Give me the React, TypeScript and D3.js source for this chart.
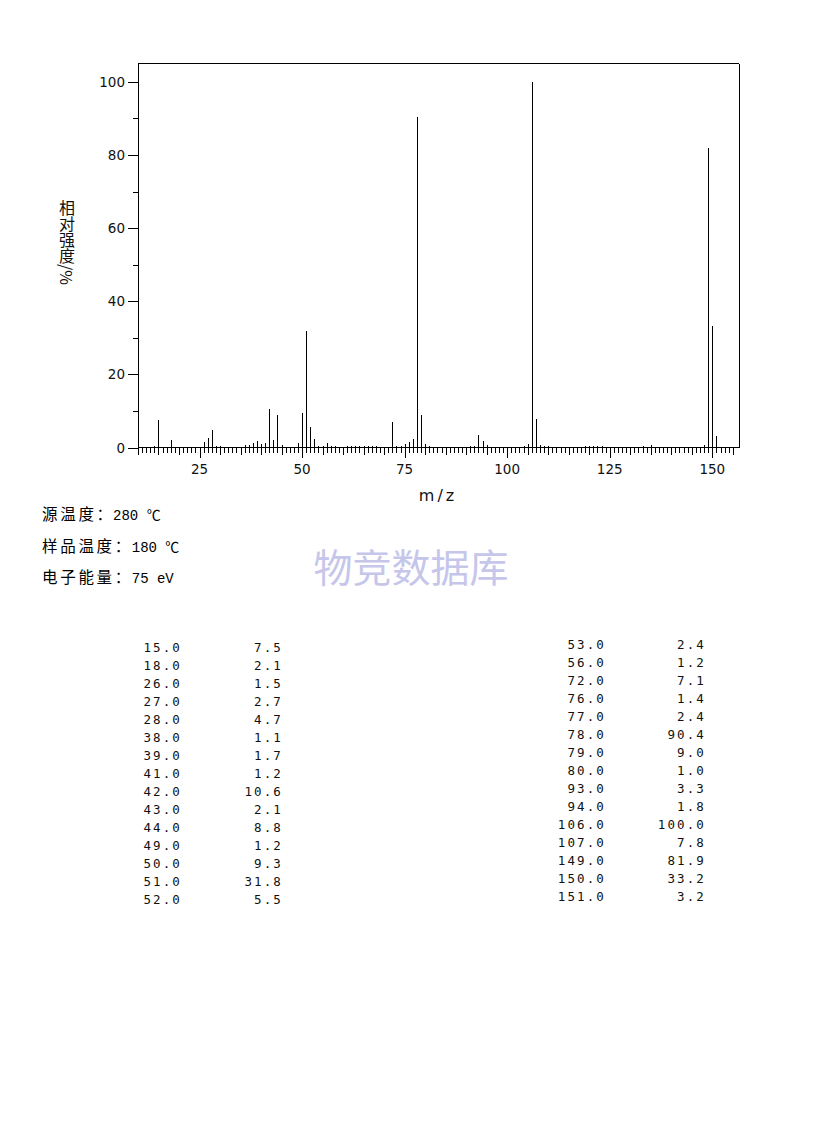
import React from "react";
import * as d3 from "d3";

// Peak list (m/z and relative intensity %)
const peakMz = [14,15,18,26,27,28,29,30,36,37,38,39,40,41,42,43,44,45,49,50,51,52,53,54,55,56,57,58,61,62,63,64,65,66,67,68,72,73,74,75,76,77,78,79,80,81,91,92,93,94,95,104,105,106,107,108,109,110,119,120,121,122,123,133,135,148,149,150,151];
const peakIntensity = [0.3,7.5,2.1,1.5,2.7,4.7,0.4,0.4,0.6,0.7,1.1,1.7,0.9,1.2,10.6,2.1,8.8,0.6,1.2,9.3,31.8,5.5,2.4,0.3,0.3,1.2,0.3,0.3,0.3,0.3,0.4,0.3,0.5,0.3,0.3,0.3,7.1,0.3,0.3,0.9,1.4,2.4,90.4,9.0,1.0,0.3,0.3,0.5,3.3,1.8,0.6,0.3,0.9,100,7.8,0.8,0.4,0.3,0.5,0.5,0.5,0.5,0.5,0.4,0.8,0.8,81.9,33.2,3.2];

const xTickLabels = [25, 50, 75, 100, 125, 150];
const yTickLabels = [0, 20, 40, 60, 80, 100];
const infoLabels = ["源温度：", "样品温度：", "电子能量："];
const infoValues = ["280 ℃", "180 ℃", "75 eV"];
const watermark = "物竞数据库";
const yAxisLabel = "相对强度/%";
const xAxisLabel = "m/z";

const W = 822, H = 1134;
const plotLeft = 138, plotRight = 739, plotTop = 63.5, plotBottom = 447.5;

export default function App() {
  const x = d3.scaleLinear().domain([25, 150]).range([199.5, 712.3]);
  const y = d3.scaleLinear().domain([0, 100]).range([plotBottom, 81.8]);

  const minorX = d3.range(10, 156, 1);
  const minorY = d3.range(0, 101, 10);

  const peaks = peakMz.map((m, i) => ({ m, v: peakIntensity[i] }));
  const table = peaks.filter((p) => p.v >= 1.0);
  const leftCol = table.slice(0, 15);
  const rightCol = table.slice(15);

  const mono = "'DejaVu Sans Mono', monospace";
  const sans = "'DejaVu Sans', Verdana, sans-serif";
  const cjkFont = "'Noto Sans CJK SC', sans-serif";
  const valFont = "'Liberation Mono', 'Noto Sans CJK SC', monospace";
  const cjkAdvance = 18.7;

  return (
    <svg width={W} height={H} style={{ position: "absolute", left: 0, top: 0, background: "#fff" }}>
      <rect x={0} y={0} width={W} height={H} fill="#fff" />
      {/* frame */}
      <g stroke="#000" strokeWidth={1} fill="none" shapeRendering="crispEdges">
        <line x1={plotLeft} x2={plotRight} y1={plotTop} y2={plotTop} />
        <line x1={plotRight} x2={plotRight} y1={plotTop} y2={plotBottom} />
        <line x1={plotLeft} x2={plotLeft} y1={plotTop} y2={plotBottom} />
        <line x1={plotLeft} x2={plotRight} y1={plotBottom} y2={plotBottom} />
      </g>
      {/* x ticks */}
      <g stroke="#000" strokeWidth={1} shapeRendering="crispEdges">
        {minorX.map((m) => {
          const len = m % 25 === 0 ? 10 : m % 5 === 0 ? 7 : 5;
          const xx = Math.round(x(m)) + 0.5;
          return <line key={m} x1={xx} x2={xx} y1={plotBottom} y2={plotBottom + len} />;
        })}
      </g>
      {/* y ticks */}
      <g stroke="#000" strokeWidth={1} shapeRendering="crispEdges">
        {minorY.map((v) => {
          const len = v % 20 === 0 ? 10 : 5;
          const yy = Math.round(y(v)) + 0.5;
          return <line key={v} x1={plotLeft - len} x2={plotLeft} y1={yy} y2={yy} />;
        })}
      </g>
      {/* tick labels */}
      <g fontFamily={sans} fontSize={13.5} fill="#111">
        {xTickLabels.map((m) => (
          <text key={m} x={x(m)} y={474} textAnchor="middle">{m}</text>
        ))}
        {yTickLabels.map((v) => (
          <text key={v} x={125} y={y(v) + 5} textAnchor="end">{v}</text>
        ))}
      </g>
      {/* peaks */}
      <g stroke="#000" strokeWidth={1} shapeRendering="crispEdges">
        {peaks.map((p) => {
          const xx = Math.round(x(p.m)) + 0.5;
          return <line key={p.m} x1={xx} x2={xx} y1={plotBottom} y2={y(p.v)} />;
        })}
      </g>
      {/* axis labels */}
      <text x={438} y={501} textAnchor="middle" fontFamily={sans} fontSize={16} letterSpacing={3} fill="#111">{xAxisLabel}</text>
      <text x={67} y={200} fontFamily={cjkFont} fontSize={16} fill="#111" style={{ writingMode: "vertical-rl" } as any}>{yAxisLabel}</text>
      {/* info lines */}
      {infoLabels.map((t, i) => (
        <g key={i} fill="#000">
          <text x={42} y={520 + i * 31.5} fontFamily={cjkFont} fontSize={15.5} letterSpacing={2.7}>{t}</text>
          <text x={42 + 3.8 * cjkAdvance + (t.length - 4) * cjkAdvance} y={520 + i * 31.5} fontFamily={valFont} fontSize={14}>{infoValues[i]}</text>
        </g>
      ))}
      {/* watermark */}
      <text x={411} y={582} textAnchor="middle" fontFamily={cjkFont} fontSize={39} fill="#c6c6ea">{watermark}</text>
      {/* table */}
      <g fontFamily={mono} fontSize={12.5} fill="#111" letterSpacing={2.1}>
        {leftCol.map((p, i) => (
          <g key={"l" + p.m}>
            <text x={182} y={652 + i * 18} textAnchor="end">{p.m.toFixed(1)}</text>
            <text x={283} y={652 + i * 18} textAnchor="end">{p.v.toFixed(1)}</text>
          </g>
        ))}
        {rightCol.map((p, i) => (
          <g key={"r" + p.m}>
            <text x={606} y={649 + i * 18} textAnchor="end">{p.m.toFixed(1)}</text>
            <text x={706} y={649 + i * 18} textAnchor="end">{p.v.toFixed(1)}</text>
          </g>
        ))}
      </g>
    </svg>
  );
}
